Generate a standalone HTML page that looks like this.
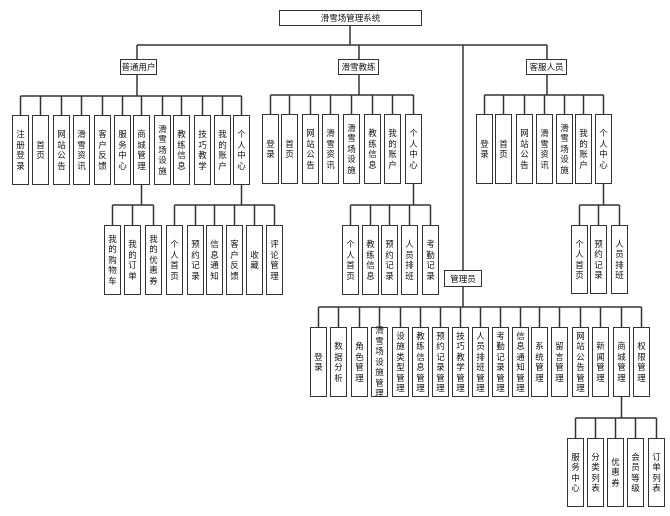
<!DOCTYPE html>
<html><head><meta charset="utf-8">
<style>
html,body{margin:0;padding:0;background:#fff;}
#c{position:relative;width:670px;height:516px;overflow:hidden;font-family:"Liberation Sans","Noto Sans CJK SC",sans-serif;}
.b{position:absolute;box-sizing:border-box;border:1.5px solid #333;background:#fff;display:flex;flex-direction:column;align-items:center;justify-content:center;text-align:center;color:#111;}
.v{font-size:8.5px;line-height:10.5px;}
.v span{display:block;}
.h{font-size:8.5px;white-space:nowrap;}
svg{position:absolute;left:0;top:0;}
</style></head><body>
<div id="c"><svg id="s" width="670" height="516"></svg></div>
<script>
var c=document.getElementById('c'),s=document.getElementById('s'),L='';
function line(x1,y1,x2,y2){L+='<line x1="'+x1+'" y1="'+y1+'" x2="'+x2+'" y2="'+y2+'" stroke="#333" stroke-width="1.5"/>';}
function box(x,y,w,h,t,v){var d=document.createElement('div');d.className='b '+(v?'v':'h');d.style.left=x+'px';d.style.top=y+'px';d.style.width=w+'px';d.style.height=h+'px';
 if(v){t.split('').forEach(function(ch){var sp=document.createElement('span');sp.textContent=ch;d.appendChild(sp);});}else d.textContent=t;c.appendChild(d);}
function group(lefts,labels,y1,y2,busY,stemX,stemTop){
  var cs=lefts.map(function(x){return x+8.5;});
  var mn=Math.min.apply(null,cs.concat([stemX])),mx=Math.max.apply(null,cs.concat([stemX]));
  line(stemX,stemTop,stemX,busY);line(mn,busY,mx,busY);
  cs.forEach(function(cx){line(cx,busY,cx,y1);});
  lefts.forEach(function(x,i){box(x,y1,17,y2-y1,labels[i],true);});
}
line(350,26,350,45);line(137,45,547,45);
line(137,45,137,59);line(359,45,359,59);line(547,45,547,59);line(463,45,463,270);
box(279,10,143,16,'滑雪场管理系统',false);
box(120,59,37,16,'普通用户',false);
box(338,59,41,16,'滑雪教练',false);
box(526,59,41,16,'客服人员',false);
box(444,270,38,17,'管理员',false);
group([12,32,53,73,94,114,133,154,173,194,214,233],['注册登录','首页','网站公告','滑雪资讯','客户反馈','服务中心','商城管理','滑雪场设施','教练信息','技巧教学','我的账户','个人中心'],115,185,96,137,75);
group([104,124,145],['我的购物车','我的订单','我的优惠券'],225,295,205,141.5,185);
group([166,187,206,226,246,266],['个人首页','预约记录','信息通知','客户反馈','收藏','评论管理'],225,295,205,241.5,185);
group([262,281,302,322,343,364,384,405],['登录','首页','网站公告','滑雪资讯','滑雪场设施','教练信息','我的账户','个人中心'],114,184,95,359,75);
group([342,362,381,401,422],['个人首页','教练信息','预约记录','人员排班','考勤记录'],225,295,205,413.5,184);
group([476,495,516,536,556,575,595],['登录','首页','网站公告','滑雪资讯','滑雪场设施','我的账户','个人中心'],114,184,95,547,75);
group([571,590,611],['个人首页','预约记录','人员排班'],225,294,205,603.5,184);
group([310,330,351,371,392,412,432,452,472,492,512,531,551,572,592,613,633],['登录','数据分析','角色管理','滑雪场设施管理','设施类型管理','教练信息管理','预约记录管理','技巧教学管理','人员排班管理','考勤记录管理','信息通知管理','系统管理','留言管理','网站公告管理','新闻管理','商城管理','权限管理'],327,397,307,463,287);
group([567,587,607,627,648],['服务中心','分类列表','优惠券','会员等级','订单列表'],438,507,418,621.5,397);
s.innerHTML=L;
</script>
</body></html>
